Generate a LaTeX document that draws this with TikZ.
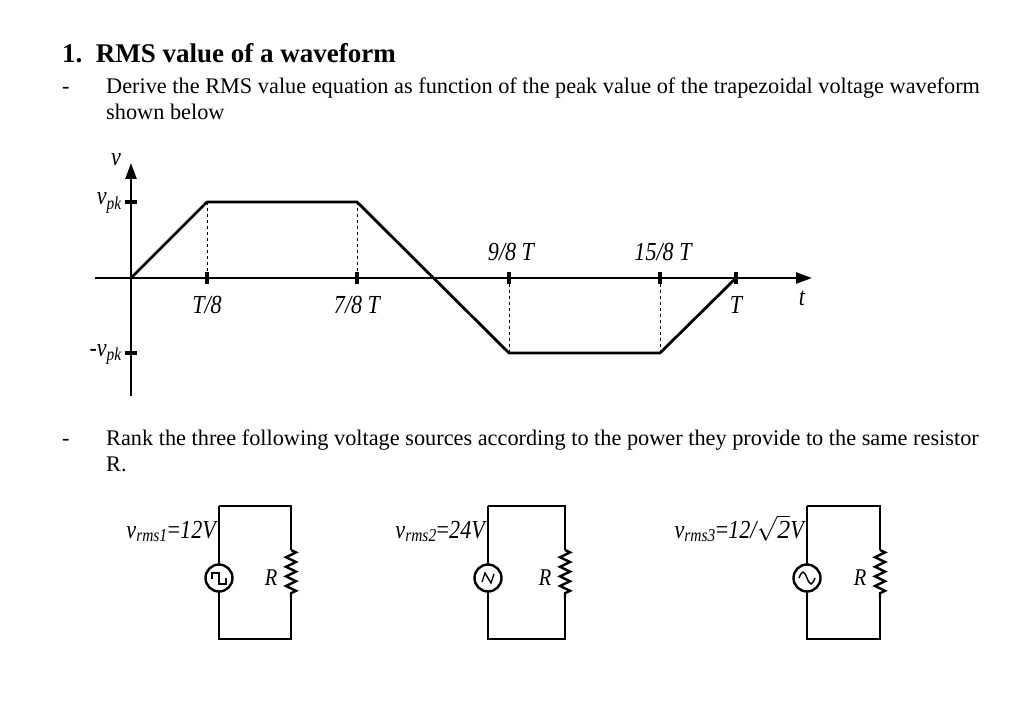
\documentclass[tikz,border=0pt]{standalone}
\usepackage{fontspec}
\setmainfont{Liberation Serif}
\newfontfamily\labfont[FakeStretch=0.85]{Liberation Serif}
\usetikzlibrary{arrows.meta,decorations.pathmorphing}
\begin{document}
\begin{tikzpicture}[x=1pt,y=-1pt,
  txt/.style={anchor=base west,inner sep=0,font=\fontsize{22.3}{26}\selectfont},
  lab/.style={inner sep=0,font=\labfont\fontsize{26}{28}\selectfont\itshape},
  wire/.style={line width=2.6pt},
  tick/.style={fill=black,minimum width=4.5pt,minimum height=12pt,inner sep=0},
  htick/.style={fill=black,minimum width=12pt,minimum height=4.5pt,inner sep=0},
  src/.style={circle,draw,line width=2.4pt,minimum size=27pt,inner sep=0,fill=white},
  res/.style={line width=2.4pt,decorate,decoration={zigzag,segment length=9.6pt,amplitude=5pt,pre length=0pt,post length=0pt}}]
\useasboundingbox (0,0) rectangle (1024,727);
\node[txt,font=\fontsize{27}{30}\selectfont\bfseries] (t1) at (62,63) {1.\ \ RMS value of a waveform};
\node[txt] (d1) at (62,94) {-};
\node[txt] (p1) at (106,94) {Derive the RMS value equation as function of the peak value of the trapezoidal voltage waveform};
\node[txt] (p1b) at (106,120) {shown below};
\node[txt] (d2) at (62,445) {-};
\node[txt] (p2) at (106,445) {Rank the three following voltage sources according to the power they provide to the same resistor};
\node[txt] (p2b) at (106,471) {R.};
% waveform
\coordinate (o) at (131,278);
\draw[line width=2.6pt,-{Triangle[length=16pt,width=11pt]}] (131,396) -- (131,163);
\draw[line width=2.6pt,-{Triangle[length=16pt,width=11pt]}] (95,278) -- (812,278);
\foreach \x/\n in {207/a,357/b,509/c,660/d,736/e} \node[tick] (k\n) at (\x,278) {};
\node[htick] (hp) at (131,202) {};
\node[htick] (hn) at (131,353) {};
\draw[dashed,line width=1pt] (207,202) -- (207,278) (357,202) -- (357,278) (509,278) -- (509,353) (660,278) -- (660,353);
\draw[line width=2.8pt,line join=miter] (o) -- (207,202) -- (357,202) -- (509,353) -- (660,353) -- (736,278);
\node[lab] (lv) at (116,160) {v};
\node[lab,anchor=east] (lvp) at (122,203) {v\textsubscript{pk}};
\node[lab,anchor=east] (lvn) at (122,354) {-v\textsubscript{pk}};
\node[lab] (l1) at (207,305) {T/8};
\node[lab] (l2) at (357,305) {7/8 T};
\node[lab] (l3) at (511,252) {9/8 T};
\node[lab] (l4) at (663,252) {15/8 T};
\node[lab] (l5) at (736,305) {T};
\node[lab] (l6) at (802,298) {t};
% circuits
\foreach \L/\R/\i in {219/291/1,488/565/2,807/880/3}{
  \coordinate (tl\i) at (\L,506); \coordinate (tr\i) at (\R,506);
  \coordinate (bl\i) at (\L,639); \coordinate (br\i) at (\R,639);
  \coordinate (ra\i) at (\R,550); \coordinate (rb\i) at (\R,598);
  \draw[wire] (tl\i) -- (tr\i) -- (ra\i) (rb\i) -- (br\i) -- (bl\i) -- (tl\i);
  \draw[res] (ra\i) -- (rb\i);
  \node[src] (s\i) at (\L,578) {};
  \node[lab,font=\labfont\fontsize{24}{26}\selectfont\itshape] (r\i) at (\R-20,578) {R};
}
\draw[line width=1.4pt] ([shift={(-7,1)}]s1.center) -- ++(0,-6) -- ++(7,0) -- ++(0,11) -- ++(7,0) -- ++(0,-6);
\draw[line width=1.4pt] ([shift={(-6,4)}]s2.center) -- ++(3,-9) -- ++(6,10) -- ++(3,-9);
\draw[line width=1.4pt] ([shift={(-8,0)}]s3.center) sin ++(4,-6) cos ++(4,6) sin ++(4,6) cos ++(4,-6);
\node[lab,anchor=base east] (v1) at (216,538) {v\textsubscript{rms1}\upshape=\itshape12V};
\node[lab,anchor=base east] (v2) at (485,538) {v\textsubscript{rms2}\upshape=\itshape24V};
\node[lab,anchor=base east] (v3) at (804,538) {v\textsubscript{rms3}\upshape=\itshape12/$\sqrt{\mathit{2}}$V};
\end{tikzpicture}
\end{document}
